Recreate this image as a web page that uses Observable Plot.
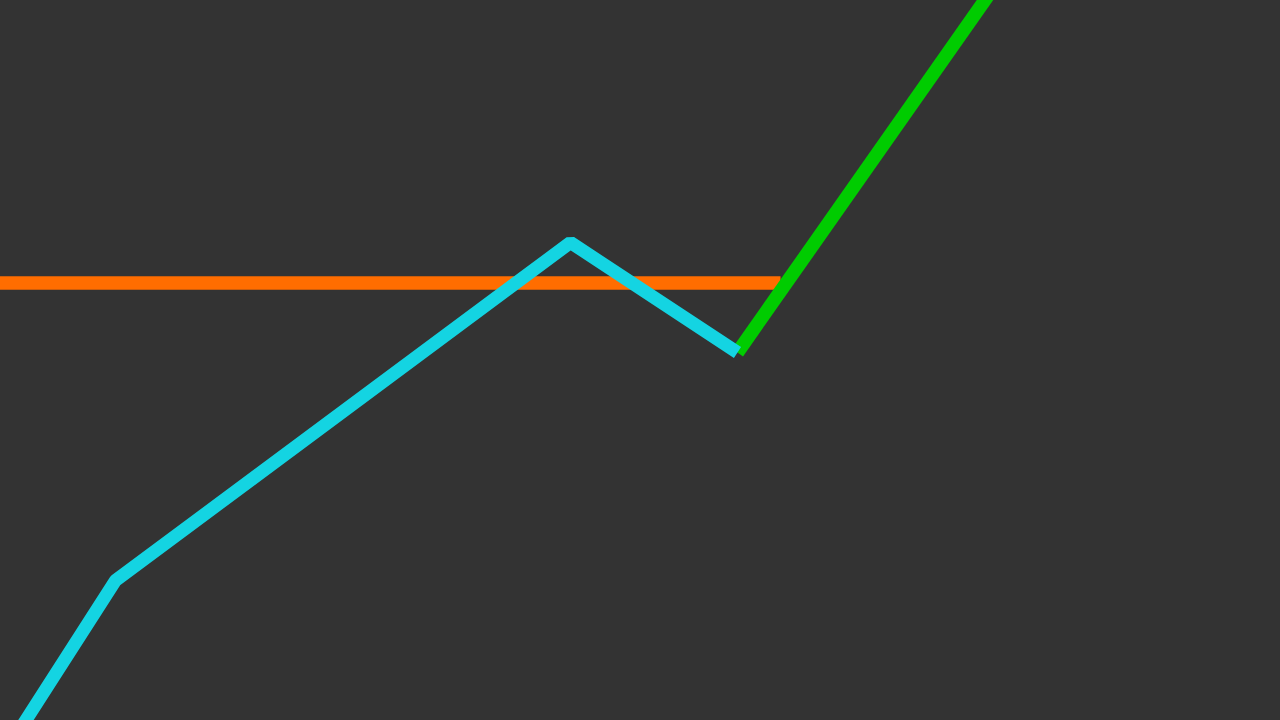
<!DOCTYPE html>
<html>
<head>
<meta charset="utf-8">
<script src="https://cdn.jsdelivr.net/npm/d3@7"></script>
<script src="https://cdn.jsdelivr.net/npm/@observablehq/plot@0.6"></script>
<style>
  html, body { margin: 0; padding: 0; background: #333333; overflow: hidden; }
  #chart svg { display: block; }
</style>
</head>
<body>
<div id="chart"></div>
<script>
// Series values (data units)
const orangeX = [-1, 19.5];
const orangeY = [10.94, 10.94];
const cyanX = [0.5, 2.875, 14.25, 18.425];
const cyanY = [-0.2, 3.5, 11.95, 9.2];
const greenX = [18.425, 24.85];
const greenY = [9.2, 18.35];

const toRows = (xs, ys) => xs.map((x, i) => ({x, y: ys[i]}));

const chart = Plot.plot({
  width: 1280,
  height: 720,
  margin: 0,
  style: {background: "#333333"},
  x: {domain: [0, 32], axis: null},
  y: {domain: [0, 18], axis: null},
  marks: [
    Plot.line(toRows(orangeX, orangeY), {x: "x", y: "y", stroke: "#ff6d00", strokeWidth: 13.5, strokeLinecap: "butt", clip: true}),
    Plot.line(toRows(greenX, greenY), {x: "x", y: "y", stroke: "#00cc00", strokeWidth: 13.5, strokeLinecap: "butt", clip: true}),
    Plot.line(toRows(cyanX, cyanY), {x: "x", y: "y", stroke: "#14d4e2", strokeWidth: 13, strokeLinejoin: "miter", strokeLinecap: "butt", clip: true})
  ]
});
document.getElementById("chart").appendChild(chart);
</script>
</body>
</html>
